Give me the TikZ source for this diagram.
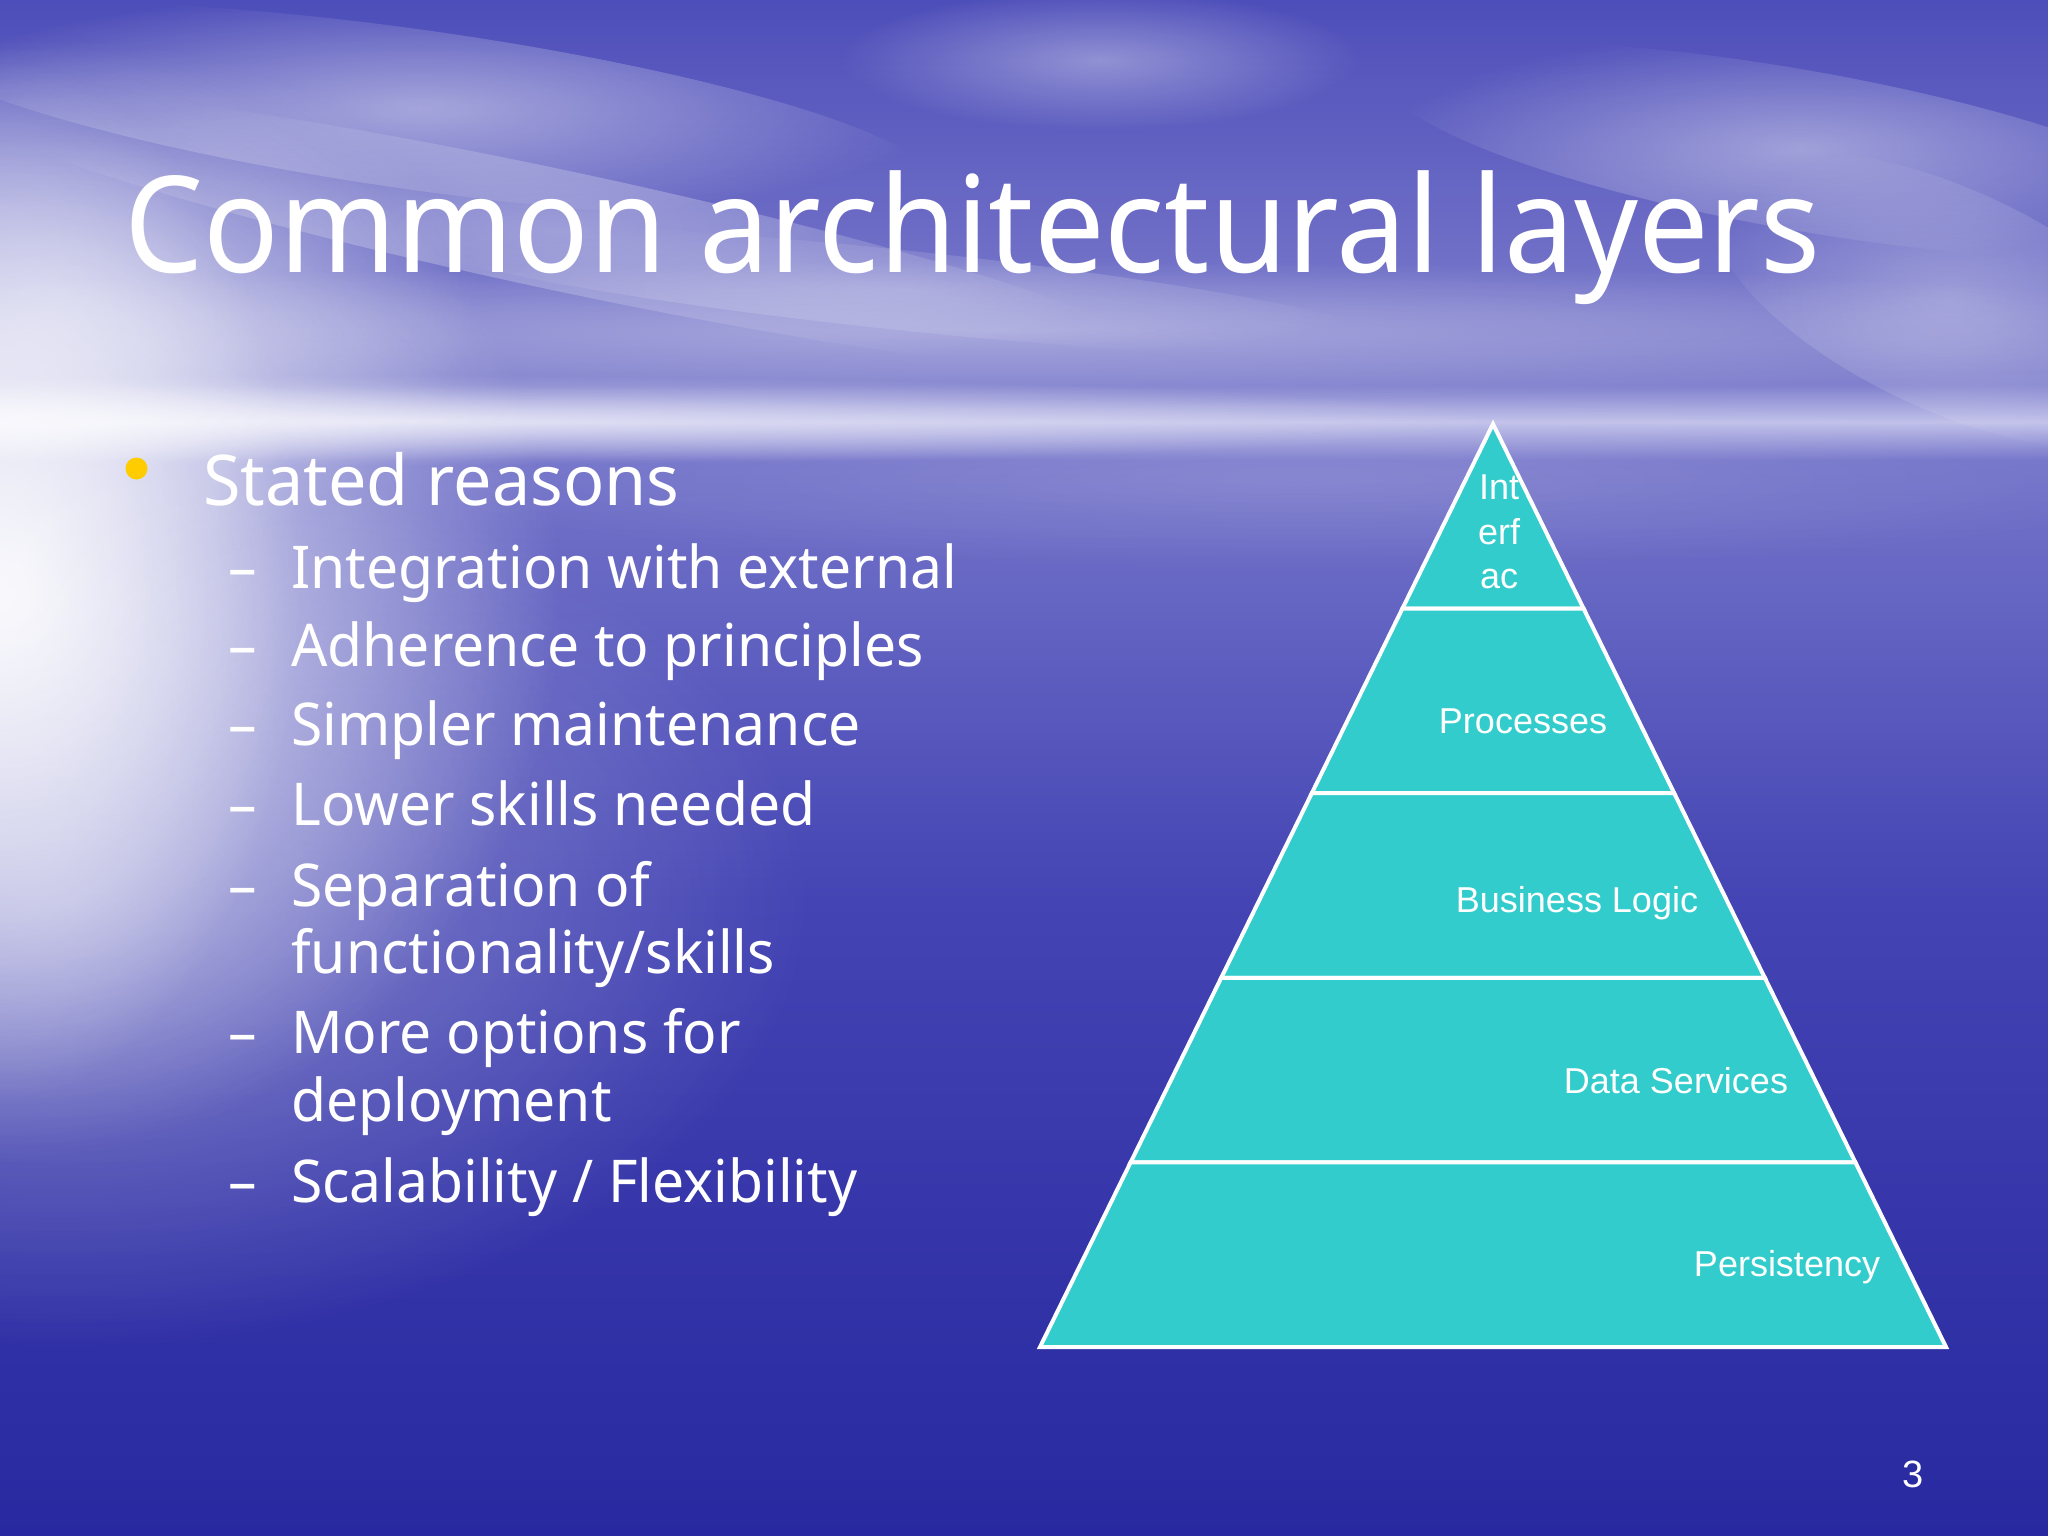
\documentclass[tikz,border=0pt]{standalone}
\usepackage{fontspec}
\setmainfont{Noto Sans}
\newfontfamily\titlef{Noto Sans}[FakeStretch=0.935]
\newfontfamily\lonef{Noto Sans}[FakeStretch=0.976]
\newfontfamily\ltwof{Noto Sans}[FakeStretch=0.966]
\newfontfamily\arialf{Liberation Sans}
\usetikzlibrary{fadings}
\tikzfading[name=soft, inner color=transparent!0, outer color=transparent!100]
\definecolor{skyTop}{HTML}{4E4EBA}
\definecolor{skyLow}{HTML}{8080CE}
\definecolor{horizon}{HTML}{C0C0EA}
\definecolor{seaTop}{HTML}{7474CA}
\definecolor{seaMid}{HTML}{4444B4}
\definecolor{seaBot}{HTML}{2828A0}
\definecolor{layerfill}{HTML}{33CCCC}
\definecolor{bulletyellow}{HTML}{FFCC00}
\tikzset{
  wisp/.style={white, path fading=soft},
  titletext/.style={anchor=base west, text=white, inner sep=0pt, font=\titlef\fontsize{134}{160}\selectfont},
  lvlone/.style={anchor=base west, text=white, inner sep=0pt, font=\lonef\fontsize{70}{84}\selectfont},
  lvltwo/.style={anchor=base west, text=white, inner sep=0pt, font=\ltwof\fontsize{59}{67}\selectfont},
  layer/.style={fill=layerfill, draw=white, line width=4pt, line join=miter},
  layertext/.style={anchor=base, text=white, inner sep=0pt, font=\arialf\fontsize{36}{44}\selectfont},
}
\begin{document}
\begin{tikzpicture}[x=1pt,y=-1pt]
\useasboundingbox (0,0) rectangle (2048,1536);
% ---------- background: sky ----------
\shade[top color=skyTop, bottom color=skyLow] (0,0) rectangle (2048,385);
\shade[top color=skyLow, bottom color=horizon] (0,385) rectangle (2048,422);
\shade[top color=horizon, bottom color=seaTop] (0,422) rectangle (2048,460);
\shade[top color=seaTop, bottom color=seaMid] (0,460) rectangle (2048,900);
\shade[top color=seaMid, bottom color=seaBot] (0,900) rectangle (2048,1536);
% wispy clouds
\fill[wisp, opacity=0.45, rotate around={-8:(420,110)}] (420,110) ellipse [x radius=520pt, y radius=80pt];
\fill[wisp, opacity=0.35, rotate around={-12:(560,230)}] (560,230) ellipse [x radius=620pt, y radius=60pt];
\fill[wisp, opacity=0.35] (1100,60) ellipse [x radius=260pt, y radius=70pt];
\fill[wisp, opacity=0.40, rotate around={-10:(1800,150)}] (1800,150) ellipse [x radius=420pt, y radius=80pt];
\fill[wisp, opacity=0.30, rotate around={-25:(1950,300)}] (1950,300) ellipse [x radius=260pt, y radius=110pt];
\fill[wisp, opacity=0.35] (1000,330) ellipse [x radius=1300pt, y radius=70pt];
\fill[wisp, opacity=0.40] (60,300) ellipse [x radius=420pt, y radius=260pt];
\fill[wisp, opacity=0.25, rotate around={-6:(900,290)}] (900,290) ellipse [x radius=500pt, y radius=40pt];
% horizon glow
\fill[wisp, opacity=0.55] (400,420) ellipse [x radius=1100pt, y radius=45pt];
% sun reflection on the left
\fill[wisp, opacity=0.85] (0,600) ellipse [x radius=560pt, y radius=560pt];
\fill[wisp, opacity=0.75] (0,580) ellipse [x radius=300pt, y radius=520pt];
\fill[wisp, opacity=0.40] (60,900) ellipse [x radius=750pt, y radius=450pt];
\fill[wisp, opacity=0.15] (1300,480) ellipse [x radius=900pt, y radius=90pt];

% ---------- title ----------
\node[titletext] (title) at (124,272) {Common architectural layers};

% ---------- bullet list ----------
\fill[bulletyellow] (136.5,468.5) circle [radius=11pt];
\node[lvlone] (stated) at (203,505) {Stated reasons};
\foreach \yy/\txt/\nm in {588.6/{Integration with external}/l1,
                          666/{Adherence to principles}/l2,
                          745.5/{Simpler maintenance}/l3,
                          825.5/{Lower skills needed}/l4,
                          906/{Separation of}/l5,
                          1053/{More options for}/l6,
                          1202/{Scalability / Flexibility}/l7}{
  \node[lvltwo] (d\nm) at (228,\yy) {–};
  \node[lvltwo] (\nm) at (291,\yy) {\txt};
}
\node[lvltwo] (l5b) at (291,973) {functionality/skills};
\node[lvltwo] (l6b) at (291,1121.5) {deployment};

% ---------- pyramid ----------
\coordinate (apex) at (1493,424);
\coordinate (a1l) at (1402.4,608.6); \coordinate (a1r) at (1583.6,608.6);
\coordinate (a2l) at (1311.8,793.2); \coordinate (a2r) at (1674.2,793.2);
\coordinate (a3l) at (1221.2,977.8); \coordinate (a3r) at (1764.8,977.8);
\coordinate (a4l) at (1130.6,1162.4); \coordinate (a4r) at (1855.4,1162.4);
\coordinate (a5l) at (1040,1347); \coordinate (a5r) at (1946,1347);
\path[layer] (apex) -- (a1r) -- (a1l) -- cycle;
\path[layer] (a1l) -- (a1r) -- (a2r) -- (a2l) -- cycle;
\path[layer] (a2l) -- (a2r) -- (a3r) -- (a3l) -- cycle;
\path[layer] (a3l) -- (a3r) -- (a4r) -- (a4l) -- cycle;
\path[layer] (a4l) -- (a4r) -- (a5r) -- (a5l) -- cycle;

\node[layertext] (int1) at (1499,499) {Int};
\node[layertext] (int2) at (1499,544) {erf};
\node[layertext] (int3) at (1499,588) {ac};
\node[layertext] (proc) at (1523,733) {Processes};
\node[layertext] (bl) at (1577,912) {Business Logic};
\node[layertext] (ds) at (1676,1093) {Data Services};
\node[layertext] (pers) at (1787,1276) {Persistency};

% ---------- page number ----------
\node[anchor=base, text=white, inner sep=0pt, font=\arialf\fontsize{38}{44}\selectfont] (pnum) at (1913,1487) {3};
\end{tikzpicture}
\end{document}
